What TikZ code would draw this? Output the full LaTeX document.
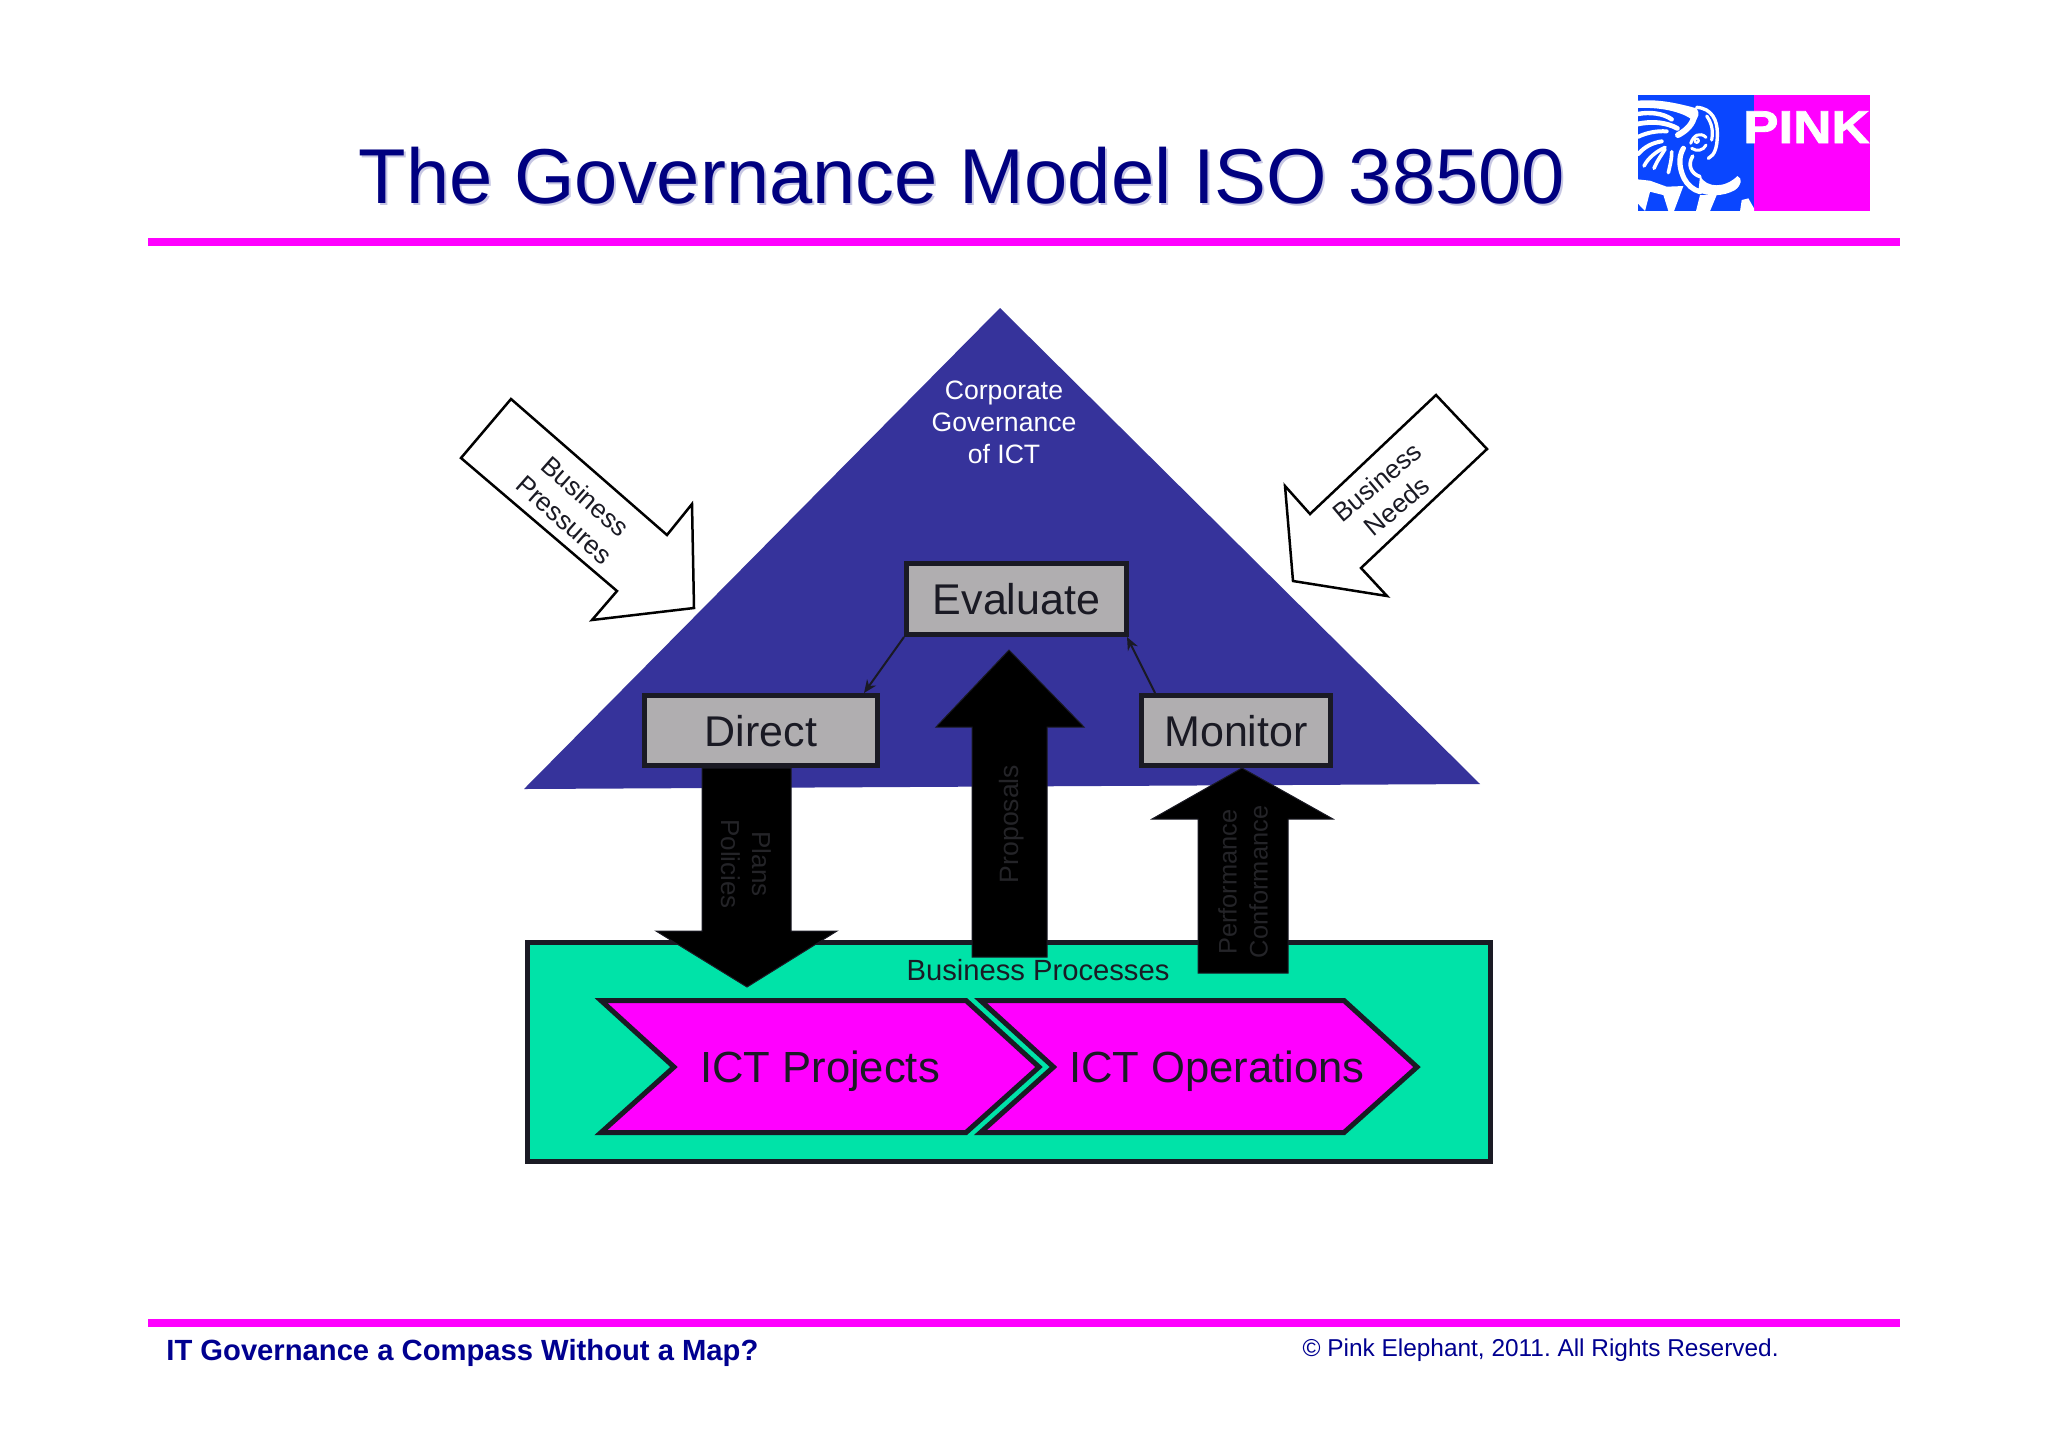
\documentclass[tikz,border=0pt]{standalone}
\usepackage{fontspec}
\usepackage{graphicx}
\setmainfont{Liberation Sans}
\usetikzlibrary{arrows.meta,calc}
\definecolor{pinkm}{HTML}{FF00FF}
\definecolor{navyt}{HTML}{000080}
\definecolor{navyf}{HTML}{000090}
\definecolor{tri}{HTML}{36339B}
\definecolor{teal}{HTML}{00E3A8}
\definecolor{boxg}{HTML}{B0AEB0}
\definecolor{ink}{HTML}{1A1A24}
\definecolor{inarrow}{HTML}{242428}
\definecolor{logob}{HTML}{0A46FF}
\newcommand{\fsz}[2]{\fontsize{#1}{#2}\selectfont}
\frenchspacing
\tikzset{
  x=0.5pt,y=-0.5pt,
  rulebar/.style={fill=pinkm,draw=none},
  grey box/.style={draw=ink,line width=2.5pt,fill=boxg,text=ink,font=\fsz{21.5}{26},inner sep=0pt,text height=15.5pt,text depth=0pt},
  big arrow/.style={fill=black,draw=ink,line width=0.5pt,miter limit=10},
  in arrow/.style={text=inarrow,align=center,inner sep=0pt},
  outline arrow/.style={fill=white,draw=black,line width=1.25pt,miter limit=10},
  chevron/.style={fill=pinkm,draw=ink,line width=2.5pt,miter limit=10},
  chevlabel/.style={anchor=base,text=ink,font=\fsz{21.8}{26},inner sep=0pt},
  flow/.style={draw=ink,line width=1pt,-{Stealth[length=6.5pt,width=5.5pt]}},
  ele/.style={draw=white,line cap=round,line join=round},
}
\begin{document}
\begin{tikzpicture}
\useasboundingbox (0,0) rectangle (2048,1447);
\fill[white] (0,0) rectangle (2048,1447);
% rules
\fill[rulebar] (148,238) rectangle (1900,246);
\fill[rulebar] (148,1319) rectangle (1900,1327);
% title
\node[anchor=base,text=navyt!22!white,font=\fsz{38.9}{46},inner sep=0pt] (titleshadow) at (964,205.5) {The Governance Model ISO 38500};
\node[anchor=base,text=navyt,font=\fsz{38.9}{46},inner sep=0pt] (title) at (962,203) {The Governance Model ISO 38500};
% logo
\fill[logob] (1638,95) rectangle (1754,211);
\fill[pinkm] (1754,95) rectangle (1870,211);
\begin{scope}
\clip (1638,95) rectangle (1754,211);
\begin{scope}[shift={(1600,80)},x=0.1667pt,y=-0.1667pt]
% top band of the head
\fill[white] (113,62) .. controls (180,56) and (240,72) .. (290,85) .. controls (300,100) and (295,115) .. (282,125) .. controls (260,100) and (190,80) .. (113,84) -- cycle;
\draw[ele,line width=1.7pt] (290,82) .. controls (335,85) and (352,120) .. (352,160) .. controls (352,200) and (345,225) .. (325,235);
\draw[ele,line width=2.2pt] (113,102) .. controls (150,95) and (190,100) .. (215,118);
\draw[ele,line width=2.4pt] (113,132) .. controls (160,122) and (200,128) .. (232,145);
\draw[ele,line width=2pt] (115,170) .. controls (140,158) and (170,152) .. (200,154);
\draw[ele,line width=2pt] (115,222) .. controls (135,198) and (160,188) .. (185,184);
\draw[ele,line width=1.8pt] (132,258) .. controls (145,232) and (170,214) .. (195,202);
\draw[ele,line width=1.8pt] (162,265) .. controls (172,240) and (185,225) .. (195,207);
\draw[ele,line width=1.8pt] (205,278) .. controls (210,255) and (215,240) .. (215,215);
\draw[ele,line width=3pt] (234,165) .. controls (262,150) and (280,130) .. (283,105);
\draw[ele,line width=1.6pt] (320,108) .. controls (335,130) and (340,150) .. (335,180);
\draw[ele,line width=1.5pt] (272,190) .. controls (280,165) and (300,155) .. (318,172);
\draw[ele,line width=1.5pt] (275,205) .. controls (290,215) and (310,212) .. (318,195);
\draw[ele,line width=1.2pt] (290,182) circle[radius=6];
\draw[ele,line width=2.6pt] (250,205) .. controls (232,235) and (240,270) .. (252,295) .. controls (262,315) and (280,330) .. (300,335);
\draw[ele,line width=1.8pt] (278,228) .. controls (262,255) and (272,280) .. (300,290);
\fill[white] (300,288) .. controls (320,325) and (375,325) .. (412,288) .. controls (428,295) and (425,315) .. (405,330) .. controls (370,350) and (320,350) .. (295,335) -- cycle;
\fill[white] (113,298) -- (150,302) -- (200,320) -- (250,318) -- (222,393) -- (205,393) -- (190,345) -- (150,335) -- (135,393) -- (113,370) -- cycle;
\fill[white] (300,345) -- (350,345) -- (330,393) -- (288,393) -- cycle;
\fill[white] (420,393) -- (425,360) -- (445,355) -- (462,385) -- (462,393) -- cycle;
\end{scope}
\end{scope}
\node[anchor=base east,text=white,font=\bfseries\fsz{23}{27},inner sep=0pt] (pink) at (1870,143) {\addfontfeature{FakeBold=1.6}\scalebox{1.15}[1]{PINK}};
% triangle
\fill[tri] (1000,308) -- (1480,784) -- (524,789) -- cycle;
\node[text=white,font=\fsz{13.3}{16},align=center,inner sep=0pt] (corp) at (1004,422) {Corporate\\Governance\\of ICT};
% outline arrows
\draw[outline arrow] (511,399) -- (667,535) -- (692,504) -- (694,608) -- (592,620) -- (617,591) -- (461,458) -- cycle;
\node[rotate=-41.5,font=\fsz{13.1}{15.5},align=center,inner sep=0pt,text=ink] (pressures) at (575,508) {Business\\Pressures};
\draw[outline arrow] (1436,395) -- (1487,449) -- (1361,568) -- (1387,596) -- (1293,581) -- (1285,486) -- (1310,514) -- cycle;
\node[rotate=40,font=\fsz{13.1}{15.5},align=center,inner sep=0pt,text=ink] (needs) at (1387,494) {Business\\Needs};
% business processes
\draw[draw=ink,line width=2.5pt,fill=teal] (527.5,942.5) rectangle (1490.5,1161.5);
\node[anchor=base,text=ink,font=\fsz{14.6}{17},inner sep=0pt] (bp) at (1038,980) {Business Processes};
\draw[chevron] (601,1000.5) -- (966,1000.5) -- (1039,1067) -- (966,1132.5) -- (601,1132.5) -- (674,1067) -- cycle;
\node[chevlabel] (proj) at (820,1082) {ICT Projects};
\draw[chevron] (980.5,1000.5) -- (1344,1000.5) -- (1417,1067) -- (1344,1132.5) -- (980.5,1132.5) -- (1053.5,1067) -- cycle;
\node[chevlabel] (ops) at (1217,1082) {ICT Operations};
% big arrows
\draw[big arrow] (702,768) -- (791,768) -- (791,931) -- (837,931) -- (747,987) -- (656,931) -- (702,931) -- cycle;
\node[in arrow,rotate=-90,font=\fsz{13}{15.5}] (plans) at (746,864) {Plans\\Policies};
\draw[big arrow] (972,957) -- (972,727) -- (936,727) -- (1009,650) -- (1084,727) -- (1047,727) -- (1047,957) -- cycle;
\node[in arrow,rotate=90,font=\fsz{13.3}{15.5}] (prop) at (1012,824) {Proposals};
\draw[big arrow] (1198,973) -- (1198,819) -- (1152,819) -- (1242,768) -- (1333,819) -- (1288,819) -- (1288,973) -- cycle;
\node[in arrow,rotate=90,font=\fsz{12.7}{15.5}] (perf) at (1243,882) {Performance\\Conformance};
% boxes
\node[grey box,minimum width=110pt,minimum height=35.5pt] (evaluate) at (1016.5,599) {Evaluate};
\node[grey box,minimum width=116.5pt,minimum height=35pt] (direct) at (761,730.5) {Direct};
\node[grey box,minimum width=94.5pt,minimum height=35pt] (monitor) at (1236,730.5) {Monitor};
% connectors
\draw[flow] (evaluate.south west) -- ([xshift=-8pt]direct.north east);
\draw[flow] ([xshift=-40.5pt]monitor.north) -- ([xshift=-1pt]evaluate.south east);
% footer
\node[anchor=base west,text=navyf,font=\bfseries\fsz{14.6}{18},inner sep=0pt] (foot) at (166,1360) {IT Governance a Compass Without a Map?};
\node[anchor=base east,text=navyf,font=\fsz{12.2}{15},inner sep=0pt] (copy) at (1779,1356) {© Pink Elephant, 2011. All Rights Reserved.};
\end{tikzpicture}
\end{document}
